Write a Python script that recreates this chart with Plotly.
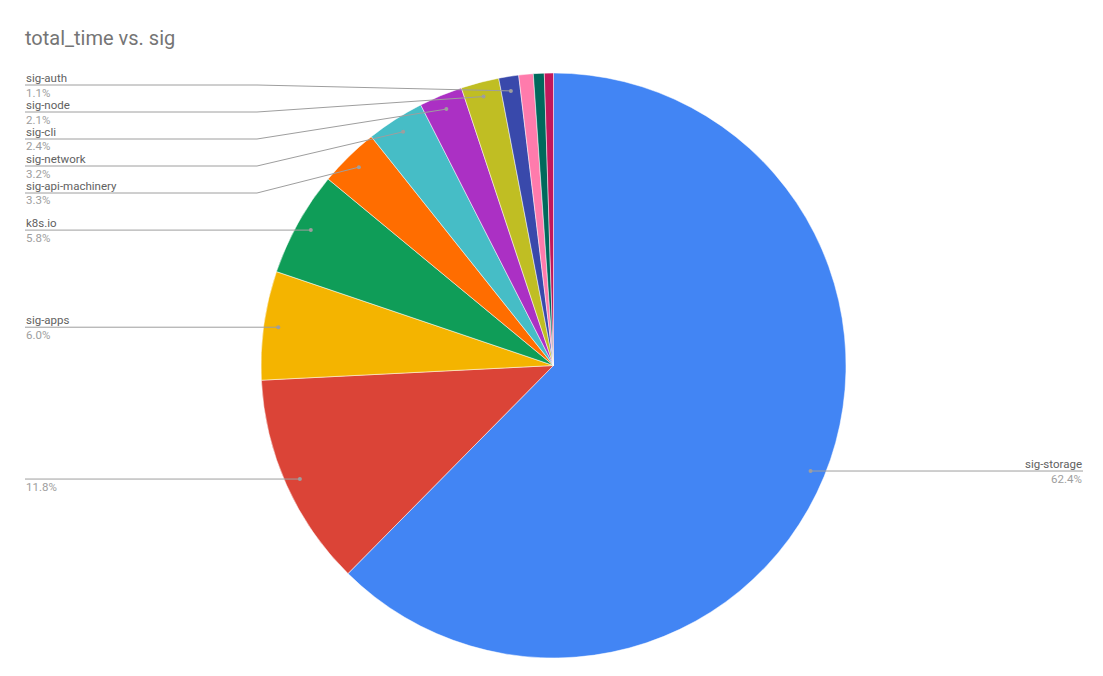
import math
import plotly.graph_objects as go

# data (share of total_time, in percent), clockwise from 12 o'clock
sigs = ["sig-storage", "", "sig-apps", "k8s.io", "sig-api-machinery", "sig-network",
        "sig-cli", "sig-node", "sig-auth", "sig-scheduling", "sig-testing", "sig-cluster-lifecycle"]
share = [62.4, 11.8, 6.0, 5.8, 3.3, 3.2, 2.4, 2.1, 1.1, 0.8, 0.6, 0.5]
colors = ["#4285F4", "#DB4437", "#F4B400", "#0F9D58", "#FF6D00", "#46BDC6",
          "#AB30C4", "#C0BE23", "#3949AB", "#FF7BAC", "#00695C", "#C2185B"]

W, H = 1103, 676
OFF = 8                            # page body margin
cx, cy, r = 553.5, 365.5, 292.5    # pie centre / radius in px
LEFT_X, RIGHT_X, BEND_X = 25, 1083, 257
TOP_MIN, STEP = 85, 27
LINE_C = "#9e9e9e"

def px(x):
    return (x - OFF) / W

def py(y):
    return 1 - (y - OFF) / H

total = sum(share)
fig = go.Figure(go.Pie(
    labels=[s if s else " " for s in sigs], values=share, sort=False,
    direction="clockwise", rotation=0, textinfo="none",
    marker=dict(colors=colors, line=dict(color="white", width=0.5)),
    domain=dict(x=[px(cx - r), px(cx + r)], y=[py(cy + r), py(cy - r)]),
    showlegend=False, hoverinfo="label+percent",
))

# label anchor points at 95% radius on each slice mid-angle
items = []
acc = 0
for name, v in zip(sigs, share):
    mid = (acc + v / 2) / total * 2 * math.pi
    acc += v
    if v / total < 0.01:
        continue
    dx, dy = cx + 0.95 * r * math.sin(mid), cy - 0.95 * r * math.cos(mid)
    items.append(dict(name=name, pct=f"{v / total * 100:.1f}%", dx=dx, dy=dy,
                      side="left" if dx < cx else "right"))

# stack left labels so they don't collide
left = sorted([it for it in items if it["side"] == "left"], key=lambda it: it["dy"])
clusters = []
for it in left:
    clusters.append(dict(items=[it], top=it["dy"]))
    while True:
        c = clusters[-1]
        c["top"] = max(c["top"], TOP_MIN)
        if len(clusters) > 1:
            p = clusters[-2]
            if p["top"] + STEP * len(p["items"]) > c["top"]:
                merged = p["items"] + c["items"]
                top = sum(m["dy"] for m in merged) / len(merged) - STEP * (len(merged) - 1) / 2
                clusters[-2:] = [dict(items=merged, top=top)]
                continue
        break
for c in clusters:
    for i, it in enumerate(c["items"]):
        it["ly"] = c["top"] + STEP * i
for it in items:
    if it["side"] == "right":
        it["ly"] = it["dy"]

shapes, annos = [], []
for it in items:
    if it["side"] == "left":
        path = f"M{px(LEFT_X)},{py(it['ly'])} L{px(BEND_X)},{py(it['ly'])} L{px(it['dx'])},{py(it['dy'])}"
        tx, anchor = LEFT_X, "left"
    else:
        path = f"M{px(it['dx'])},{py(it['dy'])} L{px(RIGHT_X)},{py(it['ly'])}"
        tx, anchor = RIGHT_X, "right"
    shapes.append(dict(type="path", path=path, xref="paper", yref="paper",
                       line=dict(color=LINE_C, width=1), layer="above"))
    shapes.append(dict(type="circle", xref="paper", yref="paper",
                       x0=px(it["dx"] - 2), x1=px(it["dx"] + 2),
                       y0=py(it["dy"] - 2), y1=py(it["dy"] + 2),
                       fillcolor=LINE_C, line=dict(width=0), layer="above"))
    if it["name"]:
        annos.append(dict(x=px(tx), y=py(it["ly"] - 7), xref="paper", yref="paper",
                          text=it["name"], showarrow=False, xanchor=anchor, yanchor="middle",
                          font=dict(size=11.5, color="#616161"), borderpad=0))
    annos.append(dict(x=px(tx), y=py(it["ly"] + 7.5), xref="paper", yref="paper",
                      text=it["pct"], showarrow=False, xanchor=anchor, yanchor="middle",
                      font=dict(size=11.5, color="#9e9e9e"), borderpad=0))

fig.update_layout(
    width=W, height=H, margin=dict(l=0, r=0, t=0, b=0),
    paper_bgcolor="white", plot_bgcolor="white",
    font=dict(family="Roboto, sans-serif"),
    title=dict(text="total_time vs. sig", x=px(LEFT_X), xanchor="left",
               y=py(38), yanchor="middle", font=dict(size=20, color="#757575")),
    shapes=shapes, annotations=annos,
)

fig.write_html("out.html")
